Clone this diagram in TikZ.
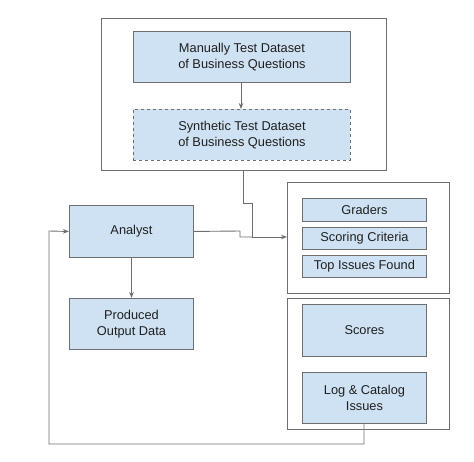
\documentclass[tikz,border=0pt]{standalone}
\usepackage{fontspec}
\setmainfont{Liberation Sans}
\usetikzlibrary{arrows.meta}
\definecolor{boxfill}{HTML}{CFE2F3}
\definecolor{edge}{HTML}{6E6E6E}
\begin{document}
\begin{tikzpicture}[x=1pt,y=-1pt,
  blue/.style={draw=edge,fill=boxfill,line width=0.9pt,inner sep=0pt,align=center,font=\fontsize{12.8}{15.5}\selectfont,text=black!88},
  frame/.style={draw=edge,line width=0.9pt,fill=none},
  conn/.style={draw=edge,line width=0.9pt},
  arr/.style={conn,-{Stealth[length=6pt,width=4.5pt]}}]
\useasboundingbox (0,0) rectangle (474,461);
% frames
\node[frame,minimum width=285pt,minimum height=152pt,anchor=north west] (topf) at (101,18) {};
\node[frame,minimum width=162pt,minimum height=111pt,anchor=north west] (r1) at (287,182) {};
\node[frame,minimum width=162pt,minimum height=131pt,anchor=north west] (r2) at (287,298) {};
% blue boxes
\node[blue,minimum width=217pt,minimum height=51pt,anchor=north west] (man) at (133,31) {Manually Test Dataset\\of Business Questions};
\node[blue,dashed,minimum width=217pt,minimum height=51pt,anchor=north west] (syn) at (133,109) {Synthetic Test Dataset\\of Business Questions};
\node[blue,minimum width=124pt,minimum height=52pt,anchor=north west] (ana) at (69,205) {Analyst};
\node[blue,minimum width=124pt,minimum height=51pt,anchor=north west] (prod) at (69,298) {Produced\\Output Data};
\node[blue,minimum width=124pt,minimum height=23pt,anchor=north west] (grad) at (302,198) {Graders};
\node[blue,minimum width=124pt,minimum height=22pt,anchor=north west] (scor) at (302,227) {Scoring Criteria};
\node[blue,minimum width=124pt,minimum height=22pt,anchor=north west] (top) at (302,255) {Top Issues Found};
\node[blue,minimum width=124pt,minimum height=52pt,anchor=north west] (scores) at (302,304) {Scores};
\node[blue,minimum width=124pt,minimum height=51pt,anchor=north west] (log) at (302,372) {Log \& Catalog\\Issues};
% coordinates
\coordinate (j) at (287,237);
\coordinate (fb) at (49,444);
% connectors
\draw[arr] (man.south -| 241,0) -- (syn.north -| 241,0);
\draw[arr] (ana.south) -- (prod.north);
\draw[arr] (topf.south -| 243,0) -- (243,203) -- (252,203) -- (252,237) -- (j);
\draw[conn] (ana.east) -- (240,231) -- (240,237) -- (252,237);
\draw[arr] (log.south -| 364,0) -- (364,444) -- (fb) -- (49,231) -- (ana.west);
\end{tikzpicture}
\end{document}
